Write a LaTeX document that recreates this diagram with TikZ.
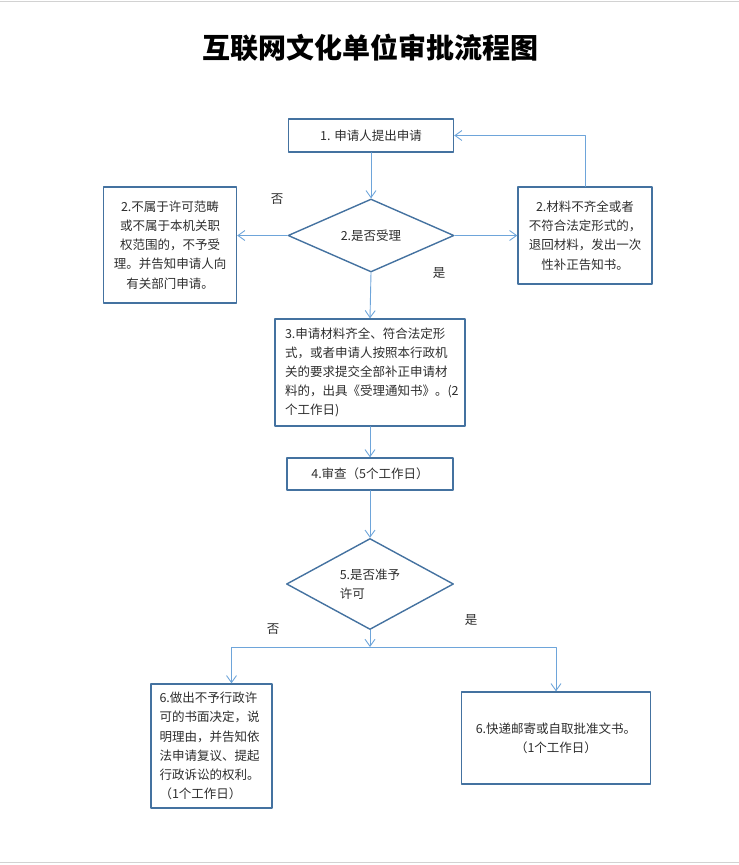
\documentclass[tikz,border=0pt]{standalone}
\usepackage{fontspec}
\newfontfamily\cjk{Noto Sans CJK SC}
\usetikzlibrary{shapes.geometric,arrows.meta}
\definecolor{boxline}{RGB}{68,114,160}
\definecolor{arrline}{RGB}{110,165,218}
\definecolor{txt}{RGB}{45,45,45}
\begin{document}
\begin{tikzpicture}[x=1pt,y=-1pt,line join=round,line cap=round,
	font=\cjk\fontsize{12.5}{19.2}\selectfont,
	>={Straight Barb[length=7pt,width=10pt]},
	box/.style={draw=boxline,line width=1.4pt,inner sep=0pt,text=txt},
	decision/.style={diamond,draw=boxline,line width=1.4pt,inner sep=0pt,text=txt},
	flow/.style={draw=arrline,line width=0.9pt},
	yesno/.style={text=txt,inner sep=0pt}]
	\useasboundingbox (0,0) rectangle (739,865);
	\draw[gray!35] (0,1)--(739,1) (0,862)--(739,862);
	\node[inner sep=0pt] (title) at (370,48) {\fontsize{28}{30}\selectfont\bfseries 互联网文化单位审批流程图};
	\node[box,minimum width=165,minimum height=33] (apply) at (371,135.5) {1. 申请人提出申请};
	\node[decision,minimum width=166,minimum height=73] (accept) at (371,235.5) {2.是否受理};
	\node[box,minimum width=133,minimum height=116,align=center] (reject) at (170,245) {2.不属于许可范畴\\或不属于本机关职\\权范围的，不予受\\理。并告知申请人向\\有关部门申请。};
	\node[box,minimum width=134,minimum height=97,align=center] (supplement) at (585,235.5) {2.材料不齐全或者\\不符合法定形式的，\\退回材料，发出一次\\性补正告知书。};
	\node[box,minimum width=190,minimum height=107,text width=170,align=left] (accepted) at (370,372.5) {3.申请材料齐全、符合法定形\\式，或者申请人按照本行政机\\关的要求提交全部补正申请材\\料的，出具《受理通知书》。(2\\个工作日)};
	\node[box,minimum width=166,minimum height=32] (review) at (370,474) {4.审查（5个工作日）};
	\node[decision,minimum width=167,minimum height=91,align=left] (decide) at (370,584) {5.是否准予\\许可};
	\node[box,minimum width=121,minimum height=124,text width=104,align=left] (refuse) at (211.5,746) {6.做出不予行政许\\可的书面决定，说\\明理由，并告知依\\法申请复议、提起\\行政诉讼的权利。\\（1个工作日）};
	\node[box,minimum width=189,minimum height=92,align=center] (approve) at (556,738) {6.快递邮寄或自取批准文书。\\（1个工作日）};
	\node[yesno] (no1) at (277,199) {否};
	\node[yesno] (yes1) at (439,273) {是};
	\node[yesno] (no2) at (273,629) {否};
	\node[yesno] (yes2) at (471,620) {是};
	\coordinate (split) at (370,647);
	\draw[flow,->] (apply.south) -- (accept.north);
	\draw[flow,->] (accept.west) -- (reject.east |- accept.west);
	\draw[flow,->] (accept.east) -- (supplement.west |- accept.east);
	\draw[flow,->] (supplement.north) |- (apply.east);
	\draw[flow,->] (accept.south) -- (accepted.north);
	\draw[flow,->] (accepted.south) -- (review.north);
	\draw[flow,->] (review.south) -- (decide.north);
	\draw[flow,->] (decide.south) -- (split);
	\draw[flow,->] (split) -| ([xshift=20pt]refuse.north);
	\draw[flow,->] (split) -| (approve.north);
\end{tikzpicture}
\end{document}
